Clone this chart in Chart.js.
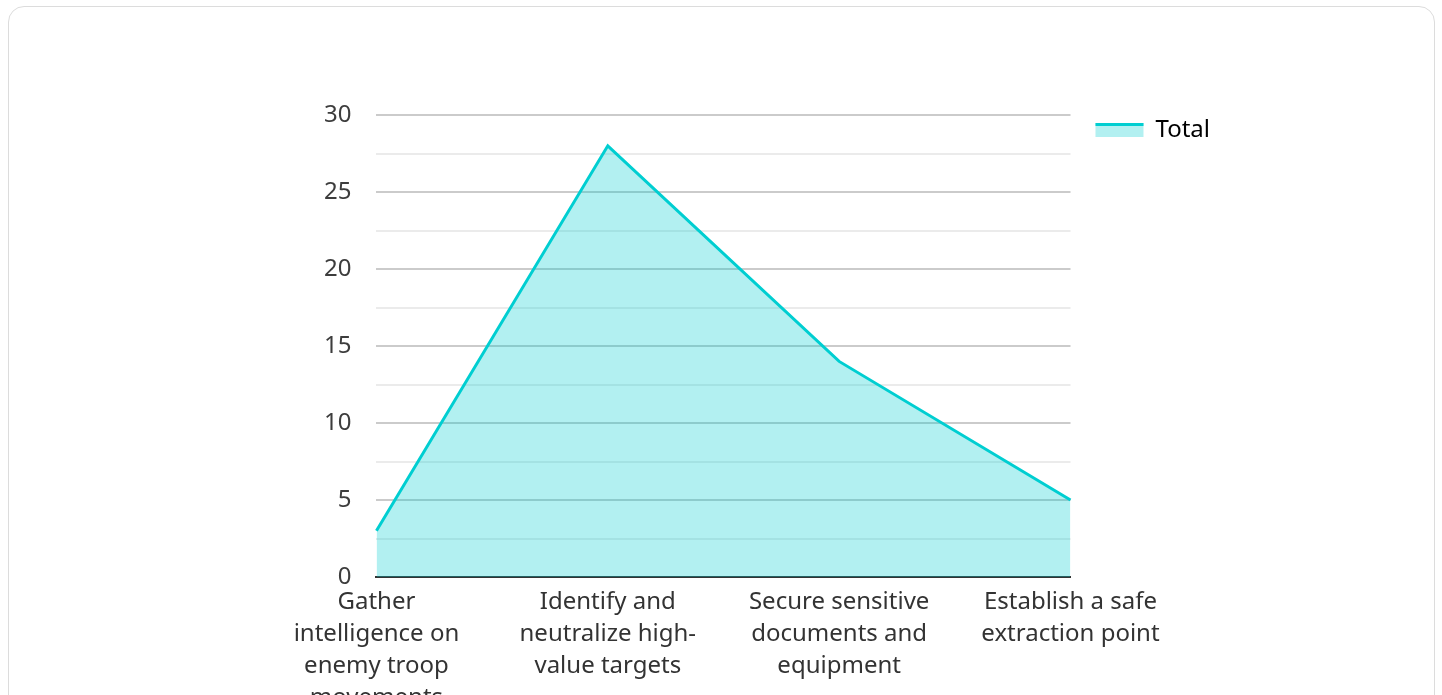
<!DOCTYPE html>
<html>
<head>
<meta charset="utf-8">
<script src="https://cdn.jsdelivr.net/npm/chart.js@4.4.1/dist/chart.umd.min.js"></script>
<style>
  html, body { margin: 0; padding: 0; background: #ffffff; overflow: hidden; }
  .card {
    position: absolute; left: 8px; top: 6px; width: 1425px; height: 760px;
    border: 1.5px solid #dcdcdc; border-radius: 16px; background: #fff;
  }
  .wrap { position: absolute; left: 0; top: 0; width: 1442px; height: 740px; }
</style>
</head>
<body>
<div class="card"></div>
<div class="wrap"><canvas id="chart"></canvas></div>
<script>
// Mission phases and their totals
const categories = [
  ["Gather", "intelligence on", "enemy troop", "movements"],
  ["Identify and", "neutralize high-", "value targets"],
  ["Secure sensitive", "documents and", "equipment"],
  ["Establish a safe", "extraction point"]
];
const totals = [3, 28, 14, 5];
const seriesName = "Total";
const yTicks = [0, 5, 10, 15, 20, 25, 30];

const lineColor = "rgb(0, 206, 209)";
const fillColor = "rgba(0, 206, 209, 0.3)";
const fontFamily = "'Noto Sans', 'Open Sans', sans-serif";

// Legend swatch: tinted box with a solid stroke across its top
const legendSwatch = {
  id: "legendSwatch",
  afterDraw(chart) {
    const legend = chart.legend;
    if (!legend || !legend.legendHitBoxes) return;
    const ctx = chart.ctx;
    const box = legend.legendHitBoxes[0];
    const bw = legend.options.labels.boxWidth;
    const bh = legend.options.labels.boxHeight;
    const y = box.top + (box.height - bh) / 2;
    ctx.save();
    ctx.fillStyle = "#ffffff";
    ctx.fillRect(box.left, y, bw, bh);
    ctx.fillStyle = fillColor;
    ctx.fillRect(box.left, y, bw, bh);
    ctx.fillStyle = lineColor;
    ctx.fillRect(box.left, y, bw, 3);
    ctx.restore();
  }
};

new Chart(document.getElementById("chart"), {
  type: "line",
  data: {
    labels: categories,
    datasets: [{
      label: seriesName,
      data: totals,
      borderColor: lineColor,
      backgroundColor: fillColor,
      borderWidth: 3,
      fill: "origin",
      tension: 0,
      pointRadius: 0,
      pointHoverRadius: 0
    }]
  },
  options: {
    responsive: true,
    maintainAspectRatio: false,
    animation: false,
    layout: { padding: { left: 299, top: 93, right: 222, bottom: 17 } },
    plugins: {
      tooltip: { enabled: false },
      legend: {
        position: "right",
        align: "start",
        labels: {
          boxWidth: 48,
          boxHeight: 14,
          padding: 25,
          color: "#2b2b2b",
          font: { family: fontFamily, size: 24 },
          generateLabels(chart) {
            return chart.data.datasets.map((ds, i) => ({
              text: ds.label,
              fillStyle: "rgba(0,0,0,0)",
              strokeStyle: "rgba(0,0,0,0)",
              lineWidth: 0,
              datasetIndex: i
            }));
          }
        }
      }
    },
    scales: {
      x: {
        offset: false,
        grid: { display: false, drawTicks: false },
        border: { display: true, color: "#333333", width: 2 },
        ticks: {
          color: "#333333",
          padding: 9,
          maxRotation: 0,
          autoSkip: false,
          font: { family: fontFamily, size: 24, lineHeight: 1.333 }
        }
      },
      // empty band above the plot area
      xTop: {
        position: "top",
        offset: false,
        grid: { display: false, drawTicks: false },
        border: { display: false },
        ticks: { display: false },
        afterFit(scale) { scale.height = 22; }
      },
      y: {
        min: 0,
        max: 30,
        border: { display: false },
        grid: {
          drawTicks: false,
          lineWidth: 2,
          color: (c) => (c.tick && yTicks.includes(c.tick.value)) ? "#cbcbcb" : "#ebebeb"
        },
        ticks: {
          stepSize: 2.5,
          padding: 25,
          color: "#3d3d3d",
          font: { family: fontFamily, size: 24 },
          callback: (v) => yTicks.includes(v) ? String(v) : ""
        }
      }
    }
  },
  plugins: [legendSwatch]
});
</script>
</body>
</html>
